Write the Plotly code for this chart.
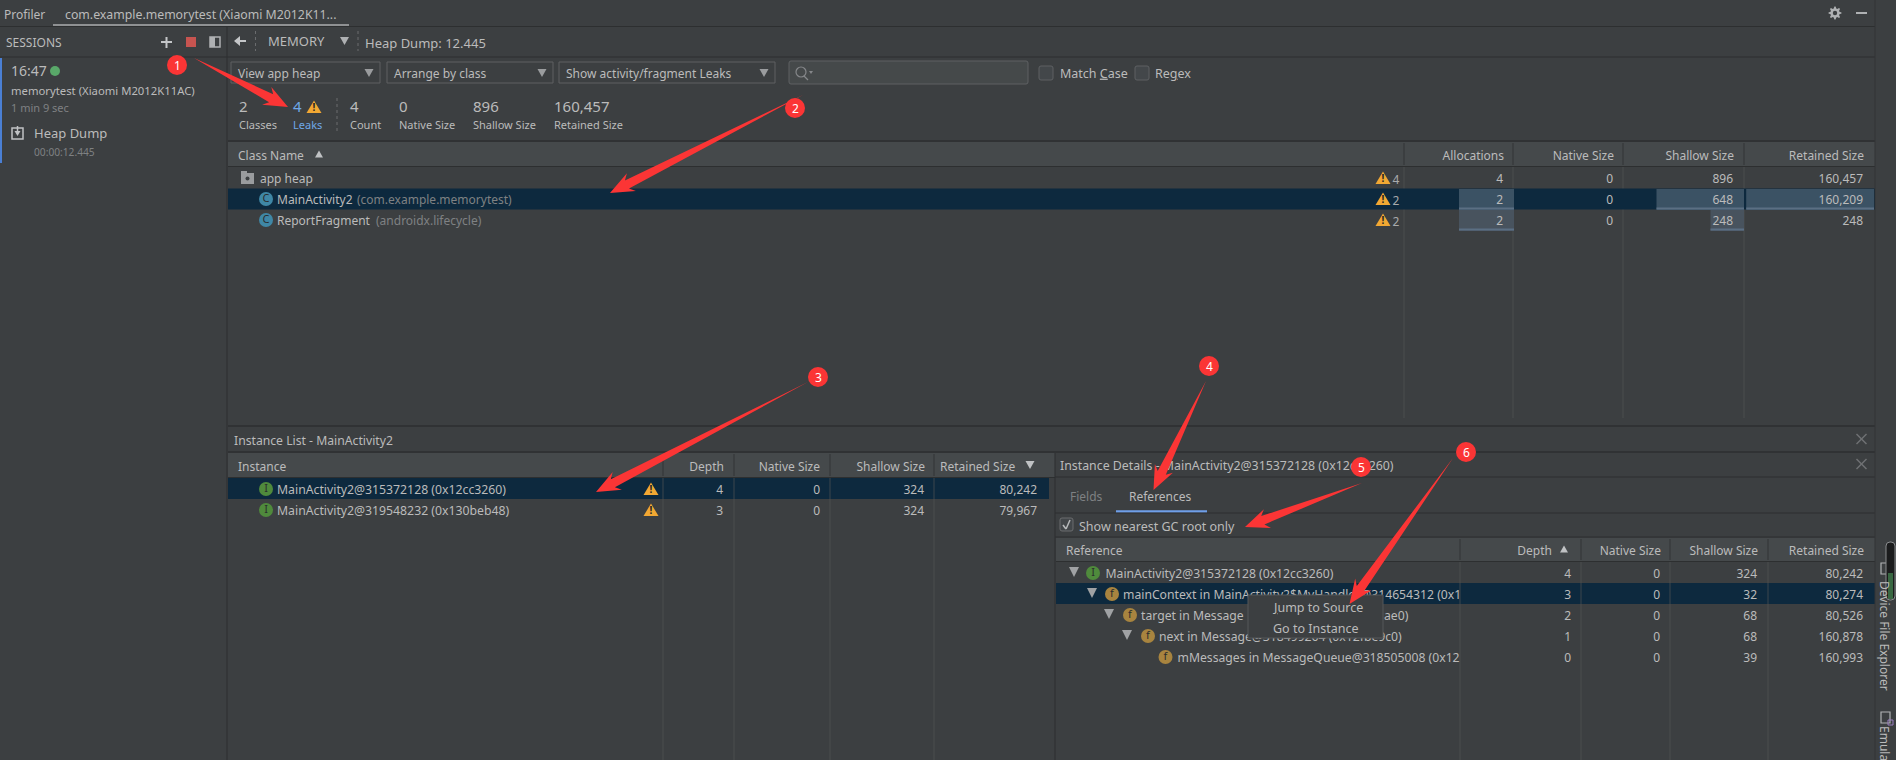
import math
import plotly.graph_objects as go

# class table
class_names = ['app heap', 'MainActivity2', 'ReportFragment']
class_packages = ['', '(com.example.memorytest)', '(androidx.lifecycle)']
class_leaks = [4, 2, 2]
class_allocations = [4, 2, 2]
class_native = [0, 0, 0]
class_shallow = [896, 648, 248]
class_retained = [160457, 160209, 248]

# instance list
instance_names = ['MainActivity2@315372128 (0x12cc3260)', 'MainActivity2@319548232 (0x130beb48)']
instance_depth = [4, 3]
instance_native = [0, 0]
instance_shallow = [324, 324]
instance_retained = [80242, 79967]

# reference tree, the third row is hidden behind the context menu except its two ends
reference_names = ['MainActivity2@315372128 (0x12cc3260)',
                   'mainContext in MainActivity2$MyHandler@314654312 (0x1',
                   'target in Message',
                   'next in Message@318499264 (0x12fbe9c0)',
                   'mMessages in MessageQueue@318505008 (0x12']
reference_depth = [4, 3, 2, 1, 0]
reference_native = [0, 0, 0, 0, 0]
reference_shallow = [324, 32, 68, 68, 39]
reference_retained = [80242, 80274, 80526, 160878, 160993]

# summary strip
summary_labels = ['Classes', 'Leaks', 'Count', 'Native Size', 'Shallow Size', 'Retained Size']
summary_values = ['2', '4', '4', '0', '896', '160,457']

BG = '#3c3f41'
HEADER = '#45494b'
SELECTED = '#0d293e'
DARK = '#2d2f30'
GRID = '#515355'
TEXT = '#bbbbbb'
DIM = '#7f8183'
BLUE = '#6fa8e8'
RED = '#fb3535'
FONT = 'Noto Sans'

shapes = []
notes = []
texts = {}
icons = []


def rect(x0, y0, x1, y1, fill=None, line=None, width=1, layer='below', radius=0):
    if radius:
        r = radius
        path = (f'M{x0+r},{y0} L{x1-r},{y0} Q{x1},{y0} {x1},{y0+r} L{x1},{y1-r} Q{x1},{y1} {x1-r},{y1} '
                f'L{x0+r},{y1} Q{x0},{y1} {x0},{y1-r} L{x0},{y0+r} Q{x0},{y0} {x0+r},{y0} Z')
        shapes.append(dict(type='path', path=path, fillcolor=fill or 'rgba(0,0,0,0)',
                           line=dict(color=line or 'rgba(0,0,0,0)', width=width), layer=layer))
    else:
        shapes.append(dict(type='rect', x0=x0, y0=y0, x1=x1, y1=y1, fillcolor=fill or 'rgba(0,0,0,0)',
                           line=dict(color=line or 'rgba(0,0,0,0)', width=width), layer=layer))


def seg(x0, y0, x1, y1, color=DARK, width=1, dash=None, layer='below'):
    shapes.append(dict(type='line', x0=x0, y0=y0, x1=x1, y1=y1, layer=layer,
                       line=dict(color=color, width=width, dash=dash or 'solid')))


def poly(points, fill, layer='below'):
    path = 'M' + ' L'.join(f'{a:.1f},{b:.1f}' for a, b in points) + ' Z'
    shapes.append(dict(type='path', path=path, fillcolor=fill, line=dict(width=0), layer=layer))


def txt(x, y, s, color=TEXT, size=12, pos='middle right'):
    k = (color, size, pos)
    if k not in texts:
        texts[k] = ([], [], [])
    texts[k][0].append(x)
    texts[k][1].append(y + 1.5)  # scatter text sits a bit high
    texts[k][2].append(s)


def note(x, y, s, color=TEXT, size=12, anchor='left', angle=0):
    notes.append(dict(x=x, y=y, text=s, showarrow=False, xanchor=anchor, yanchor='middle', textangle=angle,
                      font=dict(family=FONT, color=color, size=size)))


def icon(x, y, letter, color, size=14):
    icons.append((x, y, letter, color, size))


def warn(x, y):
    poly([(x, y - 6.5), (x + 7.5, y + 6), (x - 7.5, y + 6)], '#f2a833')
    txt(x, y - 0.5, '<b>!</b>', color='#232323', size=10, pos='middle center')


def close_x(x, y):
    seg(x - 5, y - 5, x + 5, y + 5, color='#6f7173', width=1.5)
    seg(x - 5, y + 5, x + 5, y - 5, color='#6f7173', width=1.5)


def tri_down(x, y, w=4.5, h=4, color='#a0a2a4'):
    poly([(x - w, y - h), (x + w, y - h), (x, y + h)], color)


def tri_up(x, y, w=4, h=3.5, color='#a0a2a4'):
    poly([(x - w, y + h), (x + w, y + h), (x, y - h)], color)


def gear(x, y, outer=6.5, inner=4.6, teeth=8):
    pts = []
    for n in range(teeth * 4):
        r = outer if n % 4 in (0, 1) else inner
        a = 2 * math.pi * (n - 0.5) / (teeth * 4)
        pts.append((x + r * math.cos(a), y + r * math.sin(a)))
    poly(pts, '#afb1b3')
    shapes.append(dict(type='circle', layer='below', x0=x - 2.2, y0=y - 2.2, x1=x + 2.2, y1=y + 2.2,
                       fillcolor=BG, line=dict(width=0)))


def red_arrow(x0, y0, x1, y1, head=24, barb=10, neck=4.5):
    d = math.hypot(x1 - x0, y1 - y0)
    ux, uy = (x1 - x0) / d, (y1 - y0) / d
    nx, ny = -uy, ux
    bx, by = x1 - ux * head, y1 - uy * head
    cx, cy = x1 - ux * (head - 5), y1 - uy * (head - 5)
    poly([(x0, y0), (cx + nx * neck, cy + ny * neck), (bx + nx * barb, by + ny * barb), (x1, y1),
          (bx - nx * barb, by - ny * barb), (cx - nx * neck, cy - ny * neck)], RED, layer='above')


def badge(x, y, n):
    shapes.append(dict(type='circle', x0=x - 10, y0=y - 10, x1=x + 10, y1=y + 10, fillcolor=RED,
                       line=dict(width=0), layer='above'))
    note(x, y, str(n), color='white', size=12, anchor='center')


def dropdown(x0, x1, label):
    rect(x0, 62, x1, 83, line='#5e6163')
    txt(x0 + 7, 73, label, size=12)
    tri_down(x1 - 11, 73, color='#9a9c9e')


# ---- top bars ----
txt(4, 14, 'Profiler', size=12)
txt(65, 14, 'com.example.memorytest (Xiaomi M2012K11...', size=12.3)
seg(53, 25, 349, 25, color='#8f9193', width=2)
seg(0, 26.5, 1875, 26.5)
seg(0, 57, 1875, 57)
seg(227, 27, 227, 760)
gear(1835, 13)
seg(1856, 13, 1867, 13, color='#afb1b3', width=2)

# sessions sidebar
txt(6, 42, 'SESSIONS', size=12)
seg(161, 42, 172, 42, color='#c4c6c8', width=2)
seg(166.5, 37, 166.5, 48, color='#c4c6c8', width=2)
rect(186, 37, 196, 47, fill='#c75450')
rect(210, 37, 220, 47, line='#afb1b3', width=1.5)
rect(210, 37, 215, 47, fill='#afb1b3')
seg(1, 58, 1, 163, color='#4a7fd4', width=2)
txt(11, 71, '16:47', size=14)
shapes.append(dict(type='circle', x0=50, y0=66, x1=60, y1=76, fillcolor='#59a869', line=dict(width=0), layer='below'))
txt(11, 91, 'memorytest (Xiaomi M2012K11AC)', size=11.3)
txt(11, 108, '1 min 9 sec', color=DIM, size=11)
rect(12, 128, 23, 139, line='#c0c2c4', width=1.5)
seg(17.5, 126, 17.5, 134, color='#c0c2c4', width=1.5)
poly([(14.5, 131), (20.5, 131), (17.5, 136)], '#c0c2c4')
txt(34, 133, 'Heap Dump', size=13)
txt(34, 152, '00:00:12.445', color=DIM, size=10.2)

# toolbar
seg(235, 41, 246, 41, color='#c4c6c8', width=2)
poly([(234, 41), (240, 36), (240, 46)], '#c4c6c8')
seg(255.5, 31, 255.5, 51, color='#6a6c6e', dash='dot')
txt(268, 41, 'MEMORY', size=13)
tri_down(344.5, 41, color='#afb1b3')
seg(358, 31, 358, 51, color='#6a6c6e', dash='dot')
txt(365, 43, 'Heap Dump: 12.445', size=13)

dropdown(231, 380, 'View app heap')
dropdown(387, 553, 'Arrange by class')
dropdown(559, 775, 'Show activity/fragment Leaks')
rect(789, 61, 1028, 84, fill='#45494a', line='#5e6163', radius=2)
shapes.append(dict(type='circle', x0=796, y0=67, x1=806, y1=77, line=dict(color='#85878a', width=1.2), layer='below'))
seg(804, 76, 808, 80, color='#85878a', width=1.2)
poly([(809, 71), (813, 71), (811, 74)], '#85878a')
rect(1039, 66, 1053, 80, fill='#43474a', line='#5e6163', radius=2)
txt(1060, 73, 'Match <u>C</u>ase', size=12.5)
rect(1135, 66, 1149, 80, fill='#43474a', line='#5e6163', radius=2)
txt(1155, 73, 'Re<u>g</u>ex', size=12.5)

# ---- summary strip ----
summary_x = [239, 293, 350, 399, 473, 554]
for i in range(len(summary_labels)):
    col = BLUE if summary_labels[i] == 'Leaks' else TEXT
    txt(summary_x[i], 107, summary_values[i], color=col, size=15)
    txt(summary_x[i], 125, summary_labels[i], color=BLUE if col == BLUE else TEXT, size=11)
warn(314, 107)
seg(337, 98, 337, 132, color='#6a6c6e', dash='dot')

# ---- class table ----
seg(228, 141, 1875, 141, width=1.5)
rect(228, 142, 1875, 166, fill=HEADER)
seg(228, 166.5, 1875, 166.5)
class_cols = [1404, 1513, 1623, 1744, 1874]
for x in class_cols[:-1]:
    seg(x, 143, x, 165, color='#333537')
    seg(x, 167, x, 418, color=GRID, width=0.7)
txt(238, 155, 'Class Name', size=12)
tri_up(319, 154, color='#c0c2c4')
for x, s in zip([1504, 1614, 1734, 1864], ['Allocations', 'Native Size', 'Shallow Size', 'Retained Size']):
    txt(x, 155, s, pos='middle left')

class_y = [178, 199, 220]
rect(228, 188.5, 1875, 209.5, fill=SELECTED)
rect(241, 173, 254, 184, fill='#9a9c9e')
rect(241, 171, 247, 174, fill='#9a9c9e')
shapes.append(dict(type='circle', x0=245.5, y0=176.5, x1=249.5, y1=180.5, fillcolor='#3c3f41', line=dict(width=0), layer='below'))
for i in range(len(class_names)):
    y = class_y[i]
    if i == 0:
        txt(260, y, class_names[i], size=12)
    else:
        icon(266, y, 'C', '#3f87a6')
        txt(277, y, class_names[i], size=12)
        txt(357 if i == 1 else 376, y, class_packages[i], color=DIM, size=12)
    warn(1383, y)
    txt(1396, y + 1, str(class_leaks[i]), color='#a9abad', size=12, pos='middle center')
    txt(1503, y, str(class_allocations[i]), pos='middle left')
    txt(1613, y, str(class_native[i]), pos='middle left')
    txt(1733, y, str(class_shallow[i]), pos='middle left')
    txt(1863, y, f'{class_retained[i]:,}', pos='middle left')

# size bars inside the table cells, scaled on the app heap row
bar_x0, bar_w, bar_y, foot_x0, foot_w, foot_y, bar_col, foot_col = [], [], [], [], [], [], [], []
for i in [1, 2]:
    cells = [(class_allocations, 1404, 1514), (class_shallow, 1623, 1744), (class_retained, 1746, 1874)]
    for values, left, right in cells:
        w = (right - left) * values[i] / values[0]
        if w < 1:
            continue
        bar_x0.append(right - w)
        bar_w.append(w)
        bar_y.append(class_y[i] + 0.5)
        bar_col.append('#3b5264' if i == 1 else '#48535e')
        foot_x0.append(right - w)
        foot_w.append(w)
        foot_y.append(class_y[i] + 9.5)
        foot_col.append('#5b6f83')

# ---- instance list ----
seg(228, 426, 1875, 426, width=1.5)
txt(234, 440, 'Instance List - MainActivity2', size=12.2)
close_x(1861.5, 439)
seg(228, 452, 1875, 452, width=1.5)
rect(228, 453, 1055, 477, fill=HEADER)
seg(228, 477.5, 1055, 477.5)
rect(228, 478, 1049, 499, fill=SELECTED)
for x in [663, 734, 830, 934]:
    seg(x, 454, x, 476, color='#333537')
    seg(x, 478, x, 760, color=GRID, width=0.7)
txt(238, 466, 'Instance', size=12)
for x, s in zip([724, 820, 925], ['Depth', 'Native Size', 'Shallow Size']):
    txt(x, 466, s, pos='middle left')
txt(940, 466, 'Retained Size', pos='middle right')
tri_down(1030, 465, color='#c0c2c4')
for i in range(len(instance_names)):
    y = 489 + 21 * i
    icon(266, y, 'I', '#4f8a3c')
    txt(277, y, instance_names[i], size=12.25)
    warn(651, y)
    txt(723, y, str(instance_depth[i]), pos='middle left')
    txt(820, y, str(instance_native[i]), pos='middle left')
    txt(924, y, str(instance_shallow[i]), pos='middle left')
    txt(1037, y, f'{instance_retained[i]:,}', pos='middle left')

# ---- instance details ----
seg(1055, 453, 1055, 760)
txt(1060, 465, 'Instance Details - MainActivity2@315372128 (0x12cc3260)', size=12.35)
close_x(1861.5, 464)
seg(1055, 477, 1875, 477)
txt(1070, 496, 'Fields', color=DIM, size=12)
txt(1129, 496, 'References', size=12)
seg(1116, 511.5, 1207, 511.5, color='#6f9fe8', width=2.5)
seg(1055, 513, 1875, 513)
rect(1060, 518, 1073, 531, fill='#43474a', line='#6a6c6e', radius=2)
seg(1063, 525, 1066, 529, color='#b8babc', width=1.5)
seg(1066, 529, 1070, 520, color='#b8babc', width=1.5)
txt(1079, 526, 'Show nearest GC root only', size=12.5)
seg(1055, 537, 1875, 537)
rect(1056, 538, 1875, 561, fill=HEADER)
seg(1056, 561.5, 1875, 561.5)
rect(1056, 583, 1875, 604, fill=SELECTED)
for x in [1460, 1581, 1670, 1768]:
    seg(x, 539, x, 560, color='#333537')
    seg(x, 562, x, 760, color=GRID, width=0.7)
txt(1066, 550, 'Reference', size=12)
txt(1552, 550, 'Depth', pos='middle left')
tri_up(1564, 549, color='#c0c2c4')
for x, s in zip([1661, 1758, 1864], ['Native Size', 'Shallow Size', 'Retained Size']):
    txt(x, 550, s, pos='middle left')

tree_tri = [1074, 1092, 1109, 1127, None]
tree_icon = [1093, 1112, 1130, 1148, 1165.5]
tree_text = [1105.5, 1123, 1141, 1159, 1177.5]
for i in range(len(reference_names)):
    y = 573 + 21 * i
    if tree_tri[i]:
        tri_down(tree_tri[i], y - 1, w=5, h=5, color='#a0a2a4')
    if i == 0:
        icon(tree_icon[i], y, 'I', '#4f8a3c')
    else:
        icon(tree_icon[i], y, 'f', '#a8843f')
    txt(tree_text[i], y, reference_names[i], size=12.2)
    txt(1571, y, str(reference_depth[i]), pos='middle left')
    txt(1660, y, str(reference_native[i]), pos='middle left')
    txt(1757, y, str(reference_shallow[i]), pos='middle left')
    txt(1863, y, f'{reference_retained[i]:,}', pos='middle left')
txt(1384, 615, 'ae0)', size=12.2)

# context menu sits over the tree text
rect(1248, 595, 1383, 638, fill=BG, line='#55585a', layer='above')
note(1271, 607, '<u>J</u>ump to Source', size=12.5)
note(1271, 628, 'Go to Instance', size=12.5)

# ---- right tool strip ----
seg(1875, 0, 1875, 760, color='#323436')
rect(1881, 563, 1890, 574, line='#afb1b3', width=1.2, layer='above')
note(1885, 636, 'Device File Explorer', size=12, anchor='center', angle=90)
rect(1886, 542, 1895, 600, fill='#1b1c1d', line='#8a8c8e', width=1, layer='above', radius=4)
for yy in range(574, 599, 2):
    seg(1888, yy, 1893, yy, color='#58b368', width=1, layer='above')
rect(1881, 712, 1890, 723, line='#afb1b3', width=1.2, layer='above')
rect(1888, 720, 1893, 725, line='#9a7fc0', width=1, layer='above')
note(1885, 743, 'Emula', size=12, anchor='center', angle=90)

# ---- callouts ----
red_arrow(194, 58, 288, 107)
badge(177, 65, 1)
red_arrow(803, 95, 610, 193)
badge(795, 108, 2)
red_arrow(808, 382, 596, 492)
badge(818, 377, 3)
red_arrow(1206, 381, 1153.5, 490)
badge(1209, 366, 4)
red_arrow(1362, 483, 1245, 527)
badge(1361, 467, 5)
red_arrow(1453, 458, 1349.5, 604)
badge(1466, 452, 6)

# ---- traces ----
fig = go.Figure()
fig.add_trace(go.Bar(orientation='h', base=bar_x0, x=bar_w, y=bar_y, width=21,
                     marker=dict(color=bar_col, line=dict(width=0))))
fig.add_trace(go.Bar(orientation='h', base=foot_x0, x=foot_w, y=foot_y, width=2,
                     marker=dict(color=foot_col, line=dict(width=0))))
for k, v in texts.items():
    fig.add_trace(go.Scatter(x=v[0], y=v[1], text=v[2], mode='text', textposition=k[2], cliponaxis=False,
                             textfont=dict(family=FONT, color=k[0], size=k[1])))
for x, y, letter, color, size in icons:
    fig.add_trace(go.Scatter(x=[x], y=[y], text=[letter], mode='markers+text', textposition='middle center',
                             marker=dict(symbol='circle', size=size, color=color, line=dict(width=0)),
                             textfont=dict(family=FONT, color='#2b2d2e', size=11)))

fig.update_layout(width=1896, height=760, margin=dict(l=0, r=0, t=0, b=0), autosize=False,
                  paper_bgcolor=BG, plot_bgcolor=BG, showlegend=False, hovermode=False, barmode='overlay',
                  shapes=shapes, annotations=notes, font=dict(family=FONT, color=TEXT, size=12),
                  xaxis=dict(range=[0, 1896], visible=False, fixedrange=True),
                  yaxis=dict(range=[760, 0], visible=False, fixedrange=True))

fig.write_html('out.html', config=dict(displayModeBar=False),
               post_script="document.body.style.margin='0';document.body.style.overflow='hidden';")
